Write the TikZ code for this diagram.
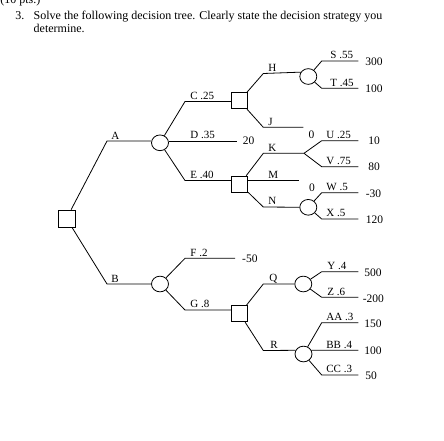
\documentclass[tikz,border=0pt]{standalone}
\usepackage{fontspec}
\setmainfont{Liberation Serif}
\usetikzlibrary{shapes.geometric}
\begin{document}
\begin{tikzpicture}[x=1pt,y=-1pt,line width=0.8pt,
  chance/.style={ellipse,draw,minimum width=17pt,minimum height=15.7pt,inner sep=0pt},
  decision/.style={rectangle,draw,minimum size=16pt,inner sep=0pt},
  lbl/.style={anchor=base west,inner sep=0pt,font=\fontsize{11}{13}\selectfont},
  val/.style={anchor=west,inner sep=0pt,font=\fontsize{11.5}{13}\selectfont},
  ttl/.style={anchor=base west,inner sep=0pt,font=\fontsize{12}{14}\selectfont}]
\useasboundingbox (0,0) rectangle (444,440);
% title
\node[ttl] (pts) at (0,3.5) {(10 pts.)};
\node[ttl] (num) at (15,19) {3.};
\node[ttl] (q1) at (33.3,19) {Solve the following decision tree. Clearly state the decision strategy you};
\node[ttl] (q2) at (33.3,32.5) {determine.};
% nodes
\node[decision,minimum size=17pt] (root) at (66.5,218.5) {};
\coordinate (eA) at (107,141);
\coordinate (eB) at (107,284);
\node[chance] (cA) at (160,142.8) {};
\node[chance] (cB) at (160,284) {};
\draw (root) -- (eA) -- (eA -| cA.west);
\draw (root) -- (eB) -- (cB);
\node[lbl] (lA) at (111,139) {A};
\node[lbl] (lB) at (111,282) {B};
% C branch
\coordinate (eC) at (185,101.5);
\node[decision] (sqC) at (239.5,100.8) {};
\draw (cA) -- (eC) -- (eC -| sqC.west);
\node[lbl] (lC) at (190,99.3) {C .25};
% D branch
\coordinate (dEnd) at (236.7,141);
\draw (cA.east |- dEnd) -- (dEnd);
\node[lbl] (lD) at (190,138.8) {D .35};
\node[val] (vD) at (242.5,141) {20};
% E branch
\coordinate (eE) at (185,180.5);
\node[decision] (sqE) at (239.7,184.2) {};
\draw (cA) -- (eE) -- (eE -| sqE.west);
\node[lbl] (lE) at (190,178.3) {E .40};
% H
\coordinate (eH) at (263.3,73.5);
\node[chance] (cH) at (308.3,76.5) {};
\draw (sqC) -- (eH) -- (cH.150);
\node[lbl] (lH) at (268,71.3) {H};
\coordinate (eS) at (321.7,61);
\coordinate (sEnd) at (358.3,61);
\coordinate (eT) at (321.7,88.3);
\coordinate (tEnd) at (358.3,88.3);
\draw (cH) -- (eS) -- (sEnd);
\draw (cH) -- (eT) -- (tEnd);
\node[lbl] (lS) at (330,58.8) {S .55};
\node[lbl] (lT) at (330,86.1) {T .45};
\node[val] (vS) at (365,62) {300};
\node[val] (vT) at (365,88.7) {100};
% J
\coordinate (eJ) at (263.3,127.3);
\coordinate (jEnd) at (303.3,127.3);
\draw (sqC) -- (eJ) -- (jEnd);
\node[lbl] (lJ) at (268,125.1) {J};
\node[val] (vJ) at (308.2,134.5) {0};
% K
\coordinate (eK) at (263.3,153.3);
\coordinate (kPt) at (304,153.3);
\draw (sqE) -- (eK) -- (kPt);
\node[lbl] (lK) at (268,151.1) {K};
\coordinate (eU) at (321.7,140.7);
\coordinate (uEnd) at (358.3,140.7);
\coordinate (eV) at (321.7,166.7);
\coordinate (vEnd) at (358.3,166.7);
\draw (kPt) -- (eU) -- (uEnd);
\draw (kPt) -- (eV) -- (vEnd);
\node[lbl] (lU) at (326,138.4) {U .25};
\node[lbl] (lV) at (326,164.4) {V .75};
\node[val] (vU) at (368,140.7) {10};
\node[val] (vV) at (368,167) {80};
% M
\coordinate (mEnd) at (299.3,180.5);
\draw (sqE.east |- eE) -- (mEnd);
\node[lbl] (lM) at (268,178.3) {M};
\node[val] (vM) at (308.8,187.7) {0};
% N
\coordinate (eN) at (263.3,207);
\node[chance] (cN) at (308.3,207.3) {};
\draw (sqE) -- (eN) -- (cN);
\node[lbl] (lN) at (268,204.8) {N};
\coordinate (eW) at (321.7,192.7);
\coordinate (wEnd) at (358.3,192.7);
\coordinate (eX) at (321.7,219);
\coordinate (xEnd) at (358.3,219);
\draw (cN) -- (eW) -- (wEnd);
\draw (cN) -- (eX) -- (xEnd);
\node[lbl] (lW) at (326,190.4) {W .5};
\node[lbl] (lX) at (326,216.7) {X .5};
\node[val] (vW) at (365.5,194) {-30};
\node[val] (vX) at (365.5,219.5) {120};
% F
\coordinate (eF) at (185,258.3);
\coordinate (fEnd) at (235,258.3);
\draw (cB) -- (eF) -- (fEnd);
\node[lbl] (lF) at (190,256) {F .2};
\node[val] (vF) at (241.8,258.3) {-50};
% G
\coordinate (eG) at (185,310);
\node[decision] (sqG) at (239.7,313.7) {};
\draw (cB) -- (eG) -- (eG -| sqG.west);
\node[lbl] (lG) at (190,307.8) {G .8};
% Q
\coordinate (eQ) at (263.3,284);
\node[chance] (cQ) at (303.3,284) {};
\draw (sqG) -- (eQ) -- (cQ);
\node[lbl] (lQ) at (269,281.8) {Q};
\coordinate (eY) at (321.7,271.7);
\coordinate (yEnd) at (358.3,271.7);
\coordinate (eZ) at (321.7,297.3);
\coordinate (zEnd) at (358.3,297.3);
\draw (cQ) -- (eY) -- (yEnd);
\draw (cQ) -- (eZ) -- (zEnd);
\node[lbl] (lY) at (327,269.4) {Y .4};
\node[lbl] (lZ) at (327,295) {Z .6};
\node[val] (vY) at (364,272.5) {500};
\node[val] (vZ) at (362.5,299) {-200};
% R
\coordinate (eR) at (263.3,350.5);
\node[chance] (cR) at (303.5,354) {};
\draw (sqG) -- (eR) -- (cR.155);
\node[lbl] (lR) at (270,348.3) {R};
\coordinate (eAA) at (321.7,322.7);
\coordinate (aaEnd) at (358.3,322.7);
\coordinate (bbEnd) at (358.3,350.3);
\coordinate (eCC) at (321.7,375);
\coordinate (ccEnd) at (358.3,375);
\draw (cR) -- (eAA) -- (aaEnd);
\draw (cR.25) -- (bbEnd);
\draw (cR) -- (eCC) -- (ccEnd);
\node[lbl] (lAA) at (326,320.4) {AA .3};
\node[lbl] (lBB) at (326,348) {BB .4};
\node[lbl] (lCC) at (326,372.7) {CC .3};
\node[val] (vAA) at (364,323.5) {150};
\node[val] (vBB) at (364,350.5) {100};
\node[val] (vCC) at (365,376) {50};
\end{tikzpicture}
\end{document}
